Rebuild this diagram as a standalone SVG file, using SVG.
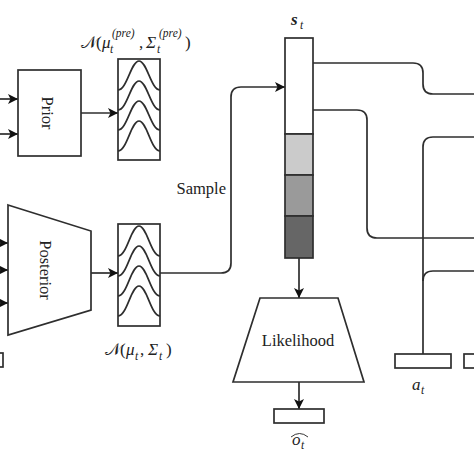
<svg xmlns="http://www.w3.org/2000/svg" width="474" height="474" viewBox="0 0 474 474">
<style>
.ln{fill:none;stroke:#2e2e2e;stroke-width:1.7}
.bx{fill:#fff;stroke:#2e2e2e;stroke-width:1.7}
.lbl{font-family:"Liberation Serif","DejaVu Serif",serif;fill:#222;font-size:16.5px}
.m{font-family:"Liberation Serif","DejaVu Serif",serif;font-style:italic;fill:#222;font-size:17px}
.r{font-family:"Liberation Serif","DejaVu Serif",serif;fill:#222;font-size:17px}
.s{font-family:"Liberation Serif","DejaVu Serif",serif;font-style:italic;fill:#222;font-size:11.5px}
.cal{font-family:"DejaVu Sans","Noto Sans",serif;fill:#222;font-size:17px}
</style>
<defs>
<marker id="ah" viewBox="0 0 10 10" refX="10" refY="5" markerWidth="10" markerHeight="10" markerUnits="userSpaceOnUse" orient="auto">
<path d="M0,0 L10,5 L0,10 L2.5,5 z" fill="#111"/>
</marker>
</defs>

<g id="connectors">
<path class="ln" d="M0,99 H18" marker-end="url(#ah)"/>
<path class="ln" d="M0,134 H18" marker-end="url(#ah)"/>
<path class="ln" d="M0,243 H8" marker-end="url(#ah)"/>
<path class="ln" d="M0,270 H8" marker-end="url(#ah)"/>
<path class="ln" d="M0,303 H8" marker-end="url(#ah)"/>
<path class="ln" d="M81,113 H118" marker-end="url(#ah)"/>
<path class="ln" d="M91,273 H118" marker-end="url(#ah)"/>
<path class="ln" d="M160,273 H221 Q231,273 231,263 V97 Q231,87 241,87 H285" marker-end="url(#ah)"/>
<path class="ln" d="M299,258 V298" marker-end="url(#ah)"/>
<path class="ln" d="M299,382 V409" marker-end="url(#ah)"/>
<path class="ln" d="M313,63 H413 Q423,63 423,73 V84 Q423,94 433,94 H474"/>
<path class="ln" d="M313,110 H357 Q367,110 367,120 V228 Q367,238 377,238 H474"/>
<path class="ln" d="M474,137 H433 Q423,137 423,147 V354"/>
<path class="ln" d="M474,271 H433 Q423,271 423,281"/>
</g>

<g id="prior">
<rect class="bx" x="18" y="70" width="63" height="86"/>
<text class="lbl" transform="translate(47,113) rotate(90)" text-anchor="middle" dominant-baseline="central">Prior</text>
</g>

<g id="posterior">
<path class="bx" d="M8,205 L91,231 L91,310 L8,335 Z"/>
<text class="lbl" transform="translate(45,270) rotate(90)" text-anchor="middle" dominant-baseline="central">Posterior</text>
</g>

<g id="dist-prior">
<rect class="bx" x="118" y="59" width="42" height="101"/>
<path class="ln" d="M118,90 C127,90 131,61 139,61 C147,61 151,90 160,90"/>
<path class="ln" d="M118,110 C127,110 131,81 139,81 C147,81 151,110 160,110"/>
<path class="ln" d="M118,130 C127,130 131,101 139,101 C147,101 151,130 160,130"/>
<path class="ln" d="M118,151 C127,151 131,121 139,121 C147,121 151,151 160,151"/>
<text class="cal" x="81" y="48">𝒩</text>
<text class="r" x="96" y="48">(</text>
<text class="m" x="102" y="48">μ</text>
<text class="s" x="110" y="53">t</text>
<text class="s" x="112" y="37">(pre)</text>
<text class="r" x="139" y="48">,</text>
<text class="m" x="146" y="48">Σ</text>
<text class="s" x="157" y="53">t</text>
<text class="s" x="159" y="37">(pre)</text>
<text class="r" x="185" y="48">)</text>
</g>

<g id="dist-post">
<rect class="bx" x="118" y="224" width="42" height="102"/>
<path class="ln" d="M118,256 C127,256 131,226 139,226 C147,226 151,256 160,256"/>
<path class="ln" d="M118,276 C127,276 131,246 139,246 C147,246 151,276 160,276"/>
<path class="ln" d="M118,296 C127,296 131,266 139,266 C147,266 151,296 160,296"/>
<path class="ln" d="M118,316 C127,316 131,286 139,286 C147,286 151,316 160,316"/>
<text class="cal" x="105" y="355">𝒩</text>
<text class="r" x="120" y="355">(</text>
<text class="m" x="126" y="355">μ</text>
<text class="s" x="135" y="360">t</text>
<text class="r" x="140" y="355">,</text>
<text class="m" x="148" y="355">Σ</text>
<text class="s" x="159" y="360">t</text>
<text class="r" x="166" y="355">)</text>
</g>

<g id="sample-label">
<text class="lbl" x="226" y="194" text-anchor="end">Sample</text>
</g>

<g id="state">
<rect x="285" y="38" width="28" height="96" fill="#fff" stroke="#2e2e2e" stroke-width="1.7"/>
<rect x="285" y="134" width="28" height="41" fill="#cbcbcb" stroke="#2e2e2e" stroke-width="1.7"/>
<rect x="285" y="175" width="28" height="41" fill="#9a9a9a" stroke="#2e2e2e" stroke-width="1.7"/>
<rect x="285" y="216" width="28" height="42" fill="#666" stroke="#2e2e2e" stroke-width="1.7"/>
<text class="m" x="291" y="25" font-weight="bold">s</text>
<text class="s" x="300" y="29">t</text>
</g>

<g id="likelihood">
<path class="bx" d="M260,298 L338,298 L364,382 L233,382 Z"/>
<text class="lbl" x="298" y="346" text-anchor="middle">Likelihood</text>
</g>

<g id="obs">
<rect class="bx" x="274" y="409" width="50" height="14"/>
<path d="M291,437 Q299.5,430 308,437" fill="none" stroke="#222" stroke-width="0.9"/>
<text class="m" x="292" y="445">o</text>
<text class="s" x="301" y="449">t</text>
</g>

<g id="action">
<rect class="bx" x="395" y="354" width="56" height="14"/>
<text class="m" x="412" y="390">a</text>
<text class="s" x="421" y="394">t</text>
</g>

<g id="box-right">
<rect class="bx" x="464" y="354" width="30" height="14"/>
</g>

<g id="box-left">
<rect class="bx" x="-20" y="353" width="23" height="14"/>
</g>
</svg>
